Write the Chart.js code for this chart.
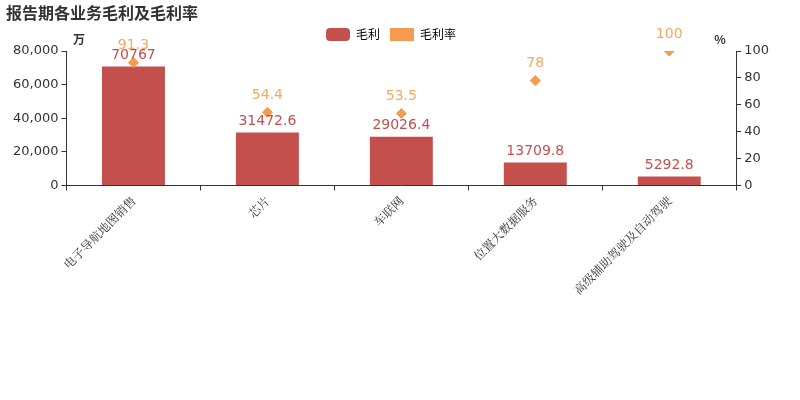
<!DOCTYPE html>
<html><head><meta charset="utf-8">
<script src="https://cdn.jsdelivr.net/npm/chart.js@4/dist/chart.umd.min.js"></script>
<style>body{margin:0;background:#fff}</style>
</head><body><canvas id="c" width="800" height="400"></canvas>
<script>
const categories=["电子导航地图销售","芯片","车联网","位置大数据服务","高级辅助驾驶及自动驾驶"];
const grossProfit=[70767,31472.6,29026.4,13709.8,5292.8];
const grossMargin=[91.3,54.4,53.5,78,100];
const leftTicks=[0,10000,20000,30000,40000,50000,60000,70000,80000];
const rightTicks=[0,20,40,60,80,100];
const RED='#c4504e',ORANGE='#f59a4f';
const fmt=v=>v.toLocaleString('en-US');
const labels={id:'labels',afterDatasetsDraw(ch){
 const ctx=ch.ctx;ctx.save();ctx.font='14px "DejaVu Sans"';ctx.textAlign='center';ctx.textBaseline='bottom';
 ch.getDatasetMeta(0).data.forEach((b,i)=>{ctx.fillStyle=RED;ctx.fillText(String(grossProfit[i]),b.x,b.y-4);});
 ch.getDatasetMeta(1).data.forEach((p,i)=>{ctx.fillStyle='#f5a862';ctx.fillText(String(grossMargin[i]),p.x,p.y-10);});
 ctx.fillStyle='#333';ctx.font='bold 16px "Noto Sans CJK SC"';ctx.textAlign='left';ctx.textBaseline='middle';
 ctx.fillText('报告期各业务毛利及毛利率',6,13);
 ctx.font='bold 12px "Noto Sans CJK SC"';ctx.textAlign='center';
 ctx.fillText('万',79,39);ctx.fillText('%',720,39);
 ctx.restore();}};
new Chart(document.getElementById('c'),{
 data:{labels:categories,datasets:[
  {type:'bar',label:'毛利',data:grossProfit,backgroundColor:RED,yAxisID:'y',barPercentage:0.47,categoryPercentage:1,order:2},
  {type:'line',label:'毛利率',data:grossMargin,yAxisID:'y1',showLine:false,pointStyle:'rectRot',pointRadius:5,backgroundColor:ORANGE,borderColor:ORANGE,order:1}]},
 options:{responsive:false,animation:false,devicePixelRatio:1,
  layout:{padding:{top:18,left:10,right:28,bottom:100}},
  plugins:{legend:{position:'top',align:'center',labels:{boxWidth:24,boxHeight:13,font:{family:'Noto Sans CJK SC',size:12},color:'#333',
   generateLabels(ch){return [{text:'毛利',fillStyle:RED,strokeStyle:RED,lineWidth:0,borderRadius:4,datasetIndex:0},{text:'毛利率',fillStyle:ORANGE,strokeStyle:ORANGE,lineWidth:0,datasetIndex:1}];}}},
   tooltip:{enabled:false}},
  scales:{
   x:{grid:{display:true,drawOnChartArea:false,offset:true,tickLength:5,color:'#333'},border:{color:'#333'},
    ticks:{maxRotation:45,minRotation:45,color:'#333',font:{family:'Noto Serif CJK SC, Noto Sans CJK SC',size:12}}},
   y:{position:'left',min:0,max:80000,afterBuildTicks(a){a.ticks=leftTicks.map(v=>({value:v}));},
    grid:{drawOnChartArea:false,tickLength:5,color:'#333'},border:{color:'#333'},
    ticks:{color:'#333',font:{size:13,family:'DejaVu Sans'},callback:v=>fmt(v)}},
   y1:{position:'right',min:0,max:100,afterBuildTicks(a){a.ticks=rightTicks.map(v=>({value:v}));},
    grid:{drawOnChartArea:false,tickLength:5,color:'#333'},border:{color:'#333'},
    ticks:{color:'#333',font:{size:13,family:'DejaVu Sans'}}}}},
 plugins:[labels]});
</script></body></html>
